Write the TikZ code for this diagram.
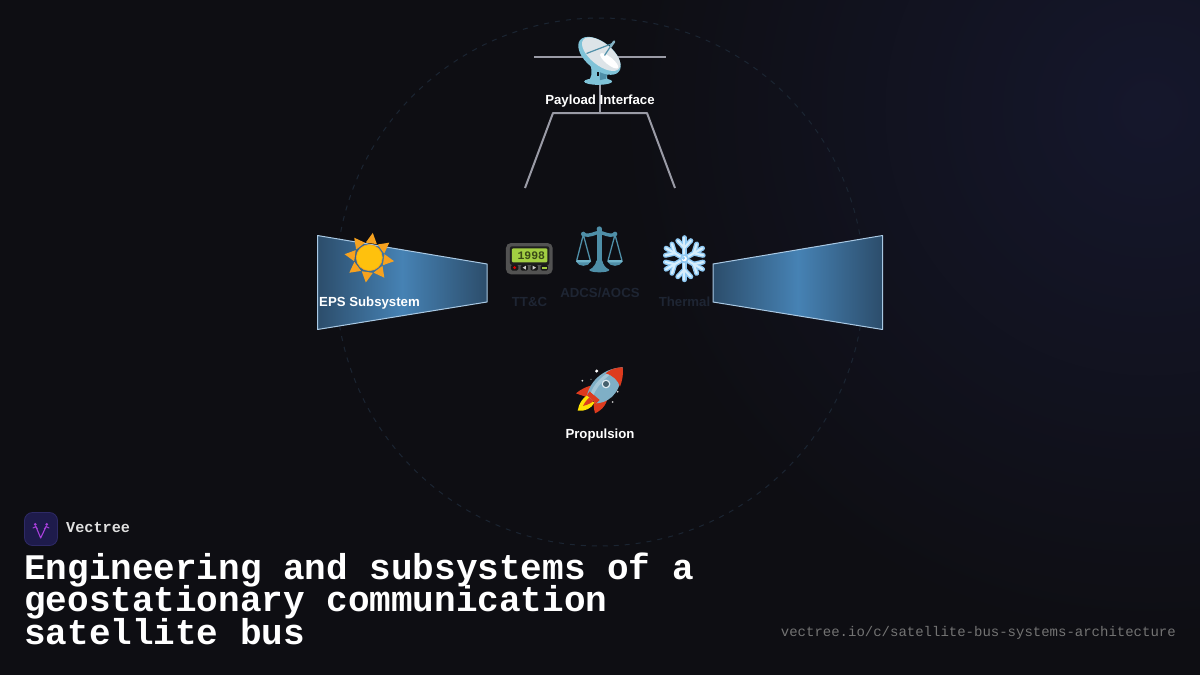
\documentclass[tikz,border=0pt]{standalone}
\usepackage{fontspec}
\setmainfont{Liberation Sans}
\newfontfamily\monob{Liberation Mono}
\usetikzlibrary{calc}
\definecolor{bgc}{HTML}{0E0E13}
\definecolor{glow}{HTML}{15172C}
\definecolor{linec}{HTML}{9A9BA6}
\definecolor{edgeb}{HTML}{2C4D6B}
\definecolor{midb}{HTML}{4682B4}
\definecolor{rimb}{HTML}{A9C9E4}
\definecolor{ringc}{HTML}{1B2532}
\definecolor{mutedl}{HTML}{1E2533}
\definecolor{teal}{HTML}{4F8FA8}
\definecolor{tealb}{HTML}{7FC3D8}
\definecolor{dishface}{HTML}{DDE4E8}
\definecolor{rocketr}{HTML}{DD3B1E}
\definecolor{rocketb}{HTML}{7FAFC6}
\definecolor{sunray}{HTML}{F7A21F}
\definecolor{sundisc}{HTML}{FFC10D}
\definecolor{flakeo}{HTML}{90CAF4}
\definecolor{flakei}{HTML}{D6EEFC}
\definecolor{lcd}{HTML}{A2CE42}
\definecolor{logoedge}{HTML}{2E2A66}
\definecolor{logofill}{HTML}{1E1B4B}
\definecolor{logomark}{HTML}{A63FDA}
\tikzset{
 lab/.style={font=\bfseries\fontsize{13.2}{15}\selectfont,text=white,inner sep=0pt,anchor=base},
 labm/.style={lab,text=mutedl},
 conn/.style={draw=linec,line width=2pt},
 panel/.style={left color=edgeb,right color=edgeb,middle color=midb,draw=none},
 panelrim/.style={draw=rimb,line width=1pt,line join=round},
 icon/.style={x=0.3333pt,y=-0.3333pt},
}
\begin{document}
\begin{tikzpicture}[x=1pt,y=-1pt]
\useasboundingbox (0,0) rectangle (1200,675);
\fill[bgc] (0,0) rectangle (1200,675);
\begin{scope}
\clip (0,0) rectangle (1200,675);
\shade[inner color=glow,outer color=bgc] (1150,110) circle[radius=530];
\end{scope}
% orbit ring
\draw[ringc,line width=1pt,dash pattern=on 5pt off 6pt] (600,282) circle[radius=264];
% panels
\coordinate (pl1) at (317.5,235.5); \coordinate (pl2) at (487,264);
\coordinate (pl3) at (487,302); \coordinate (pl4) at (317.5,329.5);
\coordinate (pr1) at (882.5,235.5); \coordinate (pr2) at (713,264);
\coordinate (pr3) at (713,302); \coordinate (pr4) at (882.5,329.5);
\shade[panel] (pl1)--(pl2)--(pl3)--(pl4)--cycle;
\draw[panelrim] (pl1)--(pl2)--(pl3)--(pl4)--cycle;
\shade[panel] (pr2)--(pr1)--(pr4)--(pr3)--cycle;
\draw[panelrim] (pr2)--(pr1)--(pr4)--(pr3)--cycle;
% connectors
\coordinate (busl) at (534,56.5); \coordinate (busr) at (666,56.5);
\coordinate (mast) at (600,56.5); \coordinate (hub) at (600,113);
\coordinate (kl) at (553,113); \coordinate (kr) at (647,113);
\coordinate (fl) at (525,188); \coordinate (fr) at (675,188);
\draw[conn] (busl)--(busr);
\draw[conn] (mast)--(hub);
\draw[conn,line join=round] (fl)--(kl)--(kr)--(fr);
% dish
\begin{scope}[icon,shift={(566.5pt,-31.5pt)}]
\fill[tealb] (95,150) ellipse[x radius=42,y radius=10];
\fill[tealb] (72,100) -- (125,125) .. controls (118,135) and (122,145) .. (130,152) -- (62,152) .. controls (76,140) and (78,125) .. (72,100)--cycle;
\fill[teal] (100,118) -- (122,128) -- (118,142) -- (100,146)--cycle;
\fill[bgc] (90,122) rectangle (98,134);
\fill[tealb,rotate around={-39:(99,73)}] (99,73) ellipse[x radius=75,y radius=41];
\fill[dishface,rotate around={-39:(104,68)}] (104,68) ellipse[x radius=69,y radius=33];
\fill[white,rotate around={-39:(128,88)}] (128,88) ellipse[x radius=34,y radius=11];
\draw[teal,line width=1.2pt] (60,66)--(138,36);
\draw[teal,line width=1.2pt] (114,72)--(138,36);
\draw[teal!70!white,line width=2.4pt,line cap=round] (132,46)--(143,30);
\end{scope}
% sun
\begin{scope}[shift={(369.3pt,-257.7pt)}]
\foreach \a in {82,37,-8,-53,-98,-143,-188,-233}{
 \fill[sunray,rotate=\a] (14.5,5.6)--(25,0)--(14.5,-5.6)--cycle;
}
\fill[sundisc] (0,0) circle[radius=13];
\draw[sunray,line width=.6pt] (0,0) circle[radius=13];
\end{scope}
% pager
\begin{scope}[icon,shift={(300pt,-215pt)}]
\fill[black!68,rounded corners=5pt] (618,84) rectangle (758,178);
\fill[black!88,rounded corners=2pt] (630,94) rectangle (748,150);
\fill[lcd,rounded corners=1pt] (636,100) rectangle (742,142);
\node[inner sep=0,text=lcd!35!black,font=\monob\bfseries\fontsize{11.5}{11.5}\selectfont] (pagerdigits) at (694,121) {1998};
\foreach \x in {644,673,703,733}{\fill[black!90,rounded corners=1.5pt] (\x-11,149) rectangle (\x+11,167);}
\fill[red!85!black] (644,158) circle[radius=5];
\fill[white!80!black] (668,158)--(678,152)--(678,164)--cycle;
\fill[white!80!black] (708,158)--(698,152)--(698,164)--cycle;
\fill[lcd] (725,155) rectangle (741,161);
\end{scope}
% scales
\begin{scope}[icon,shift={(565pt,-220pt)}]
\draw[teal,line width=1.3pt] (55,44)--(35,122) (55,44)--(76,122) (150,44)--(129,122) (150,44)--(171,122);
\fill[teal] (33,124) .. controls (40,142) and (70,142) .. (78,124)--cycle;
\fill[teal] (127,124) .. controls (135,142) and (165,142) .. (173,124)--cycle;
\fill[tealb!70!teal,rounded corners=1pt] (33,120) rectangle (78,127);
\fill[tealb!70!teal,rounded corners=1pt] (127,120) rectangle (173,127);
\fill[teal] (96,28) rectangle (110,130);
\draw[teal,line width=3.4pt] (55,44) .. controls (75,50) and (90,38) .. (103,37) .. controls (116,38) and (130,50) .. (150,44);
\fill[teal] (103,27) circle[radius=8];
\fill[teal] (55,42) circle[radius=7];
\fill[teal] (150,42) circle[radius=7];
\fill[teal] (94,122) -- (112,122) .. controls (114,135) and (122,142) .. (132,150) -- (74,150) .. controls (84,142) and (92,135) .. (94,122)--cycle;
\fill[teal] (103,150) ellipse[x radius=30,y radius=7];
\end{scope}
% snowflake
\begin{scope}[shift={(684.3pt,-258.7pt)}]
\foreach \w/\c in {5/flakeo,2.2/flakei}{
 \foreach \a in {30,90,150,210,270,330}{
  \begin{scope}[rotate=\a]
  \draw[line width=\w pt,line cap=round,color=\c] (2,0)--(21,0);
  \draw[line width=\w pt,line cap=round,line join=round,color=\c] (18,6.5)--(11,0)--(18,-6.5);
  \end{scope}
 }
}
\fill[flakeo] (0,0) circle[radius=4.4];
\fill[white] (0,0) circle[radius=2.6];
\fill[flakeo] (-.8,-.6) circle[radius=1.7];
\end{scope}
% rocket
\begin{scope}[icon,shift={(565pt,-360pt)}]
\fill[rocketr] (33,100) .. controls (50,85) and (70,78) .. (95,72)--(78,118) .. controls (60,108) and (45,105) .. (33,100)--cycle;
\fill[rocketr] (90,160) .. controls (85,140) and (85,130) .. (88,120)--(128,100) .. controls (130,130) and (112,150) .. (90,160)--cycle;
\fill[yellow!85!orange] (38,152) .. controls (42,130) and (52,116) .. (66,106)--(88,128) .. controls (80,145) and (60,155) .. (38,152)--cycle;
\fill[rocketr] (54,138) .. controls (60,124) and (72,112) .. (84,104)--(94,116) .. controls (82,128) and (70,134) .. (54,138)--cycle;
\fill[rocketb] (173,22) .. controls (122,24) and (78,56) .. (66,106)--(94,130) .. controls (146,126) and (170,84) .. (173,22)--cycle;
\fill[rocketr] (66,106) -- (74,94) -- (104,120) -- (94,130)--cycle;
\fill[rocketb!70!white] (173,22) .. controls (135,35) and (98,75) .. (86,104) -- (78,97) .. controls (92,60) and (130,30) .. (173,22)--cycle;
\fill[rocketr] (173,22) .. controls (150,22) and (134,30) .. (122,40) .. controls (144,46) and (160,62) .. (165,80) .. controls (172,62) and (176,40) .. (173,22)--cycle;
\fill[white!78!rocketb] (123,72) circle[radius=13];
\fill[black!45!rocketb] (123,72) circle[radius=9];
\fill[white] (95,33) circle[radius=5];
\fill[white!85!black] (52,62) circle[radius=3];
\fill[white!45!black] (78,58) circle[radius=2.5];
\fill[white!85!black] (158,95) circle[radius=3];
\fill[white!75!black] (143,126) circle[radius=3];
\end{scope}
% labels
\node[lab] (payload) at (600,104) {Payload Interface};
\node[lab] (eps) at (369.5,306) {EPS Subsystem};
\node[labm] (ttc) at (529.5,306) {TT\&C};
\node[labm] (adcs) at (600,297) {ADCS/AOCS};
\node[labm] (thermal) at (684.5,306) {Thermal};
\node[lab] (prop) at (600,438) {Propulsion};
% logo
\node[draw=logoedge,fill=logofill,line width=.8pt,rounded corners=8pt,minimum size=33pt,inner sep=0pt] (logo) at (41,529) {};
\begin{scope}[icon,shift={(20pt,-508pt)}]
\draw[logomark,line width=1.1pt,line join=round] (47,54)--(62,90)--(79,54);
\draw[logomark,line width=1pt,line cap=round] (39,60)--(47,56)--(52,62) (73,62)--(79,56)--(87,60);
\fill[logomark] (46,49) circle[radius=4.5];
\fill[logomark] (80,49) circle[radius=4.5];
\end{scope}
\node[anchor=west,inner sep=0pt,text=white!88!black,font=\monob\bfseries\fontsize{15.2}{15}\selectfont] (brand) at (66,528) {Vectree};
\node[anchor=north west,inner sep=0pt,align=left,text=white,font=\monob\bfseries\fontsize{36}{32.4}\selectfont] (title) at (24,553) {Engineering and subsystems of a\\[-2.6pt]geostationary communication\\[-2.6pt]satellite bus};
\node[anchor=east,inner sep=0pt,text=white!45!black,font=\monob\fontsize{14}{14}\selectfont] (url) at (1176,633) {vectree.io/c/satellite-bus-systems-architecture};
\end{tikzpicture}
\end{document}
